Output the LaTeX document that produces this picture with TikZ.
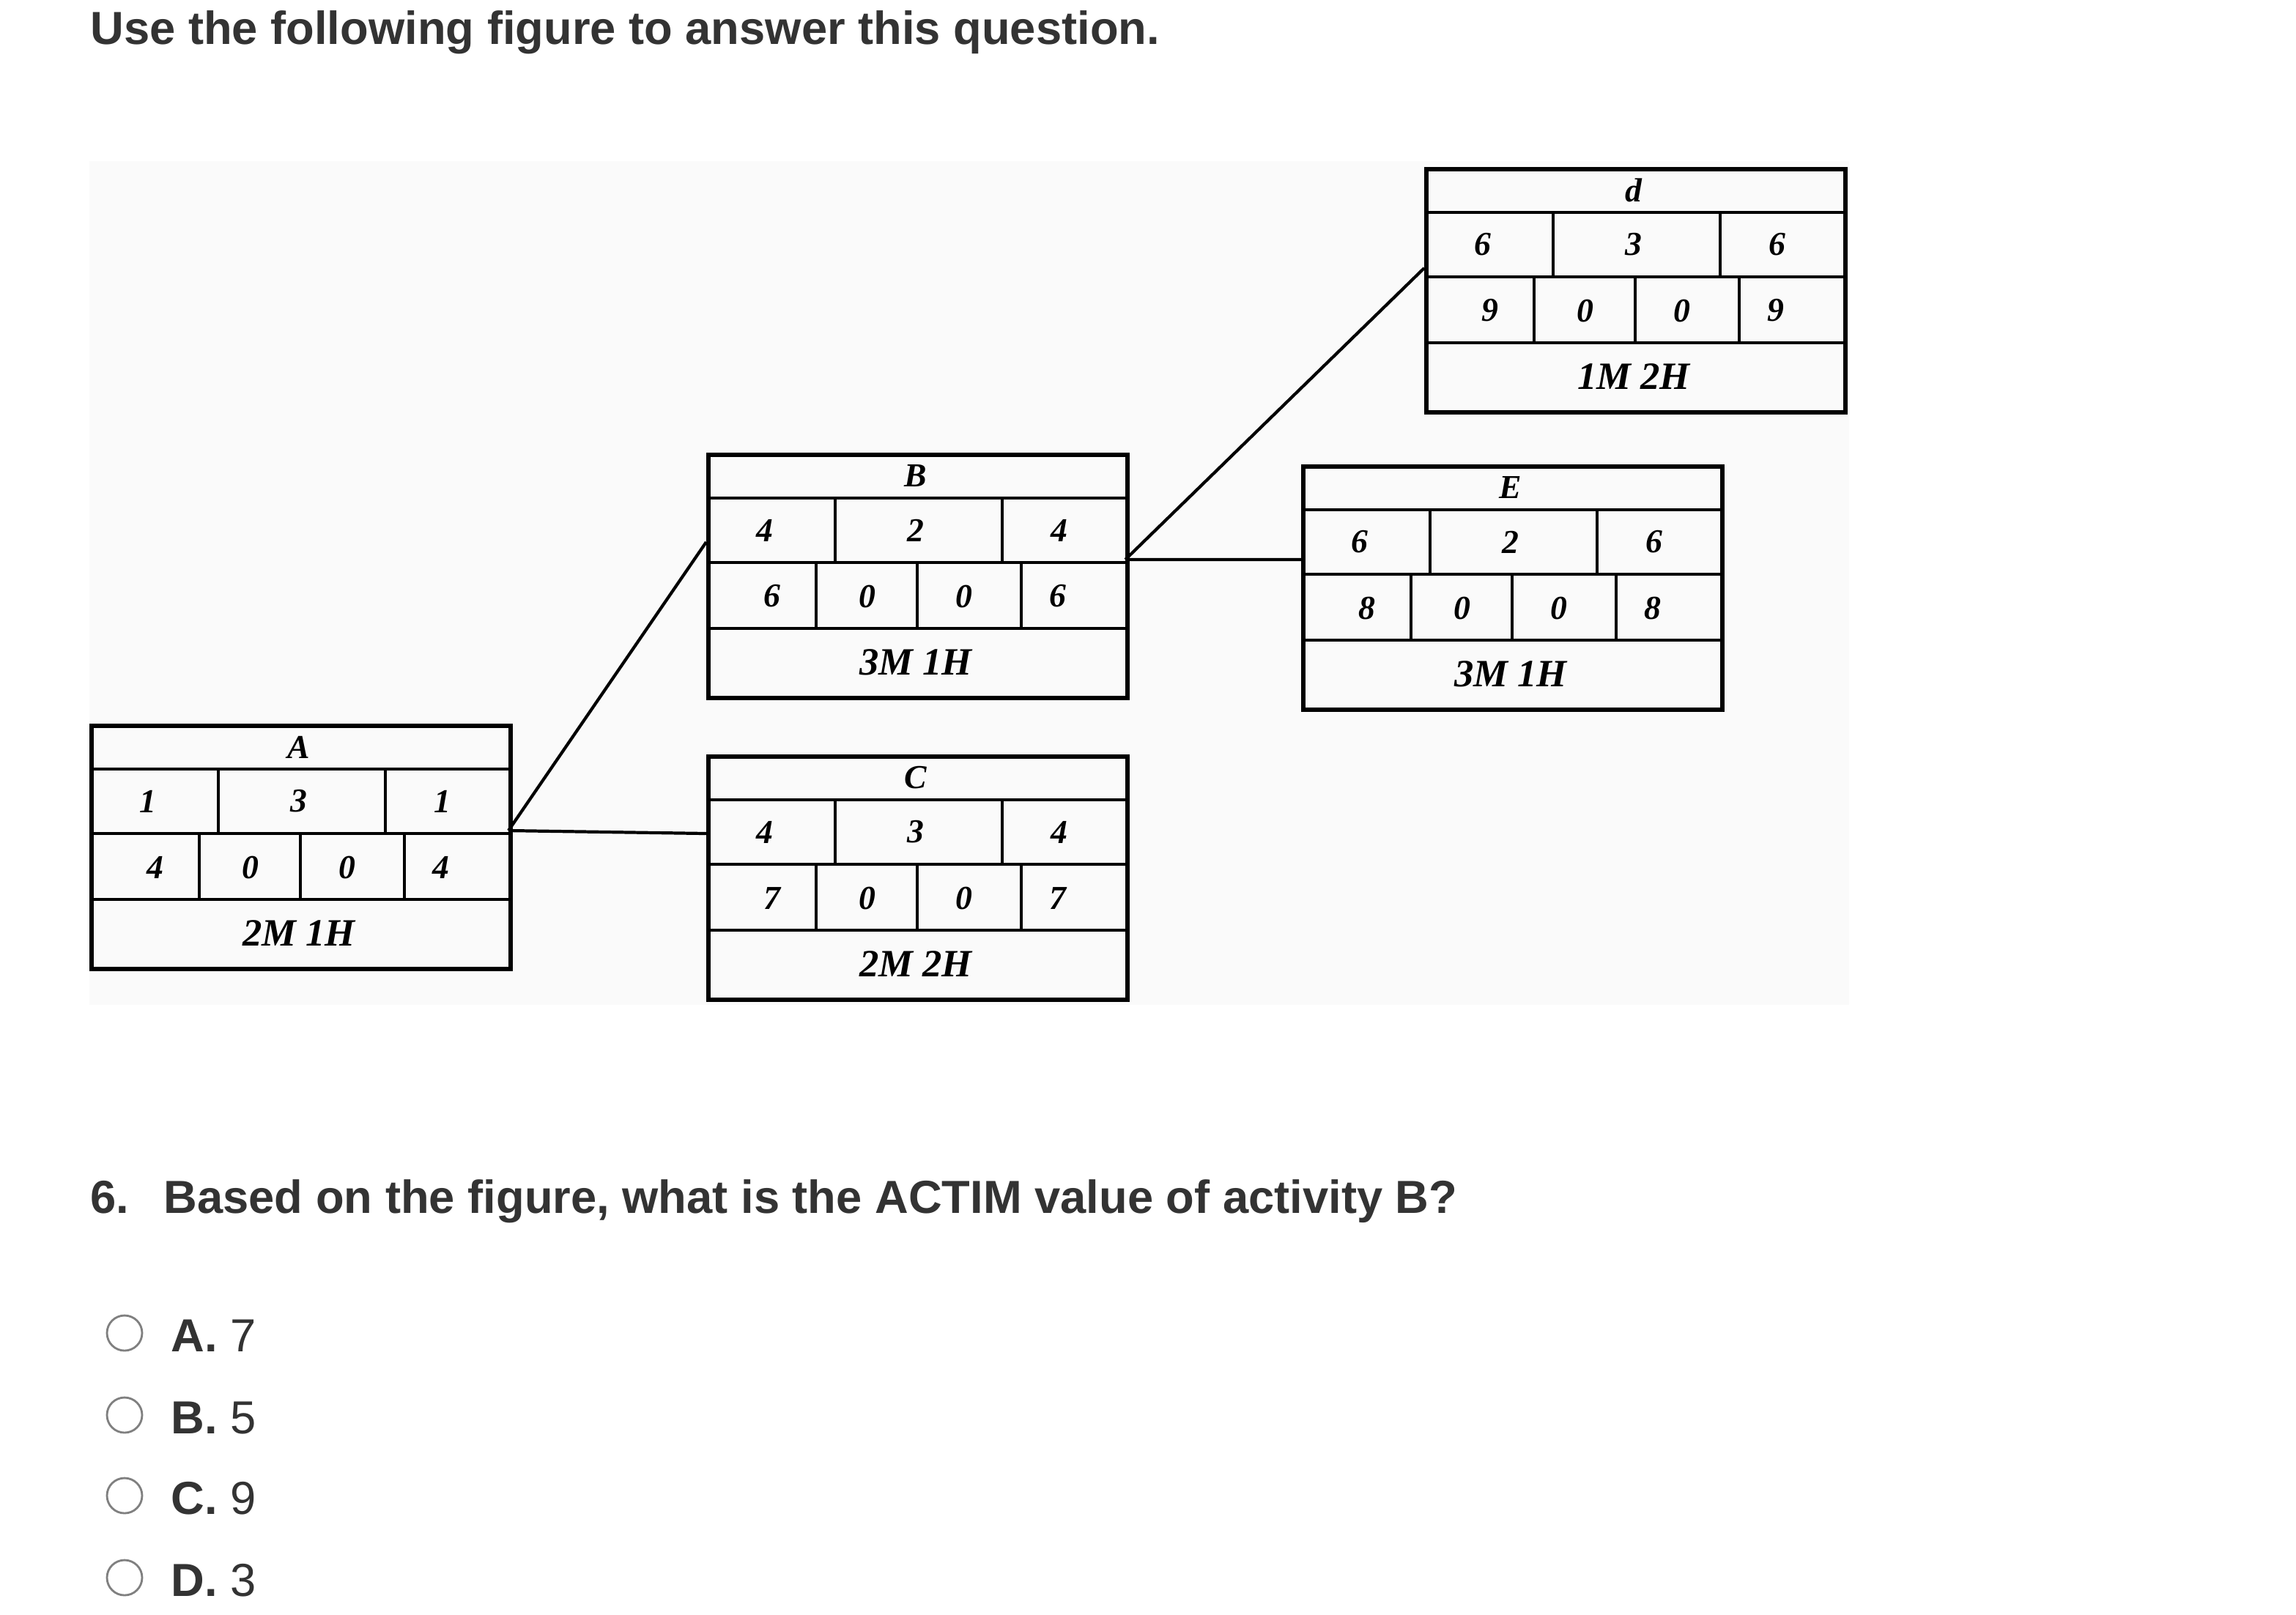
\documentclass[tikz,border=0pt]{standalone}
\usepackage{fontspec}
\setmainfont{Liberation Serif}
\newfontfamily\hsans{Liberation Sans}
\begin{document}
\begin{tikzpicture}[x=0.01cm,y=-0.01cm,
  num/.style={font=\fontsize{6.5}{7}\selectfont\bfseries\itshape},
  hdr/.style={font=\hsans\fontsize{9}{11}\selectfont\bfseries\color[HTML]{333333},anchor=west,inner sep=0},
  opt/.style={font=\hsans\fontsize{9}{11}\selectfont\color[HTML]{333333},anchor=west,inner sep=0},
  box/.style={draw,line width=0.8pt}]
\useasboundingbox (0,0) rectangle (1567,1102);
\fill[white] (0,0) rectangle (1567,1102);
\fill[gray!4] (61,110) rectangle (1262,686);
\newcommand{\actbox}[9]{%
 \begin{scope}[shift={(#2,#3)}]
 \node[box,minimum width=286*0.01cm,minimum height=166*0.01cm,anchor=north west,inner sep=0] (#1) at (0,0) {};
 \draw[line width=0.6pt] (0,31)--(286,31) (0,75)--(286,75) (0,120)--(286,120);
 \draw[line width=0.6pt] (88,31)--(88,75) (202,31)--(202,75) (75,75)--(75,120) (144,75)--(144,120) (215,75)--(215,120);
 \node[num] at (143,16) {#4};
 \node[num] at (40,53) {#5}; \node[num] at (143,53) {#6}; \node[num] at (241,53) {#5};
 \node[num] at (45,98) {#7}; \node[num] at (110,98) {0}; \node[num] at (176,98) {0}; \node[num] at (240,98) {#7};
 \node[num,font=\fontsize{7.5}{8}\selectfont\bfseries\itshape] at (143,143) {#8};
 \end{scope}}
\node[hdr] (h) at (61,22) {Use the following figure to answer this question.};
\actbox{A}{61}{494}{A}{1}{3}{4}{2M 1H}{}
\actbox{B}{482}{309}{B}{4}{2}{6}{3M 1H}{}
\actbox{C}{482}{515}{C}{4}{3}{7}{2M 2H}{}
\actbox{E}{888}{317}{E}{6}{2}{8}{3M 1H}{}
\actbox{D}{972}{114}{d}{6}{3}{9}{1M 2H}{}
\coordinate (a1) at (347,567); \coordinate (b1) at (482,370);
\coordinate (c1) at (482,569); \coordinate (b2) at (768,382);
\coordinate (d1) at (972,183); \coordinate (e1) at (888,382);
\draw[line width=0.6pt] (a1)--(b1) (a1)--(c1) (b2)--(d1) (b2)--(e1);
\node[hdr] (q) at (61,820) {6.\hspace{0.75em}Based on the figure, what is the ACTIM value of activity B?};
\foreach \y/\l/\v [count=\i] in {910/A/7,966/B/5,1021/C/9,1077/D/3}{
  \node[draw=gray,circle,minimum size=24*0.01cm,inner sep=0] (c\i) at (85,\y) {};
  \node[opt] (o\i) at (116,\y+2) {\textbf{\l.} \v};
}
\end{tikzpicture}
\end{document}
